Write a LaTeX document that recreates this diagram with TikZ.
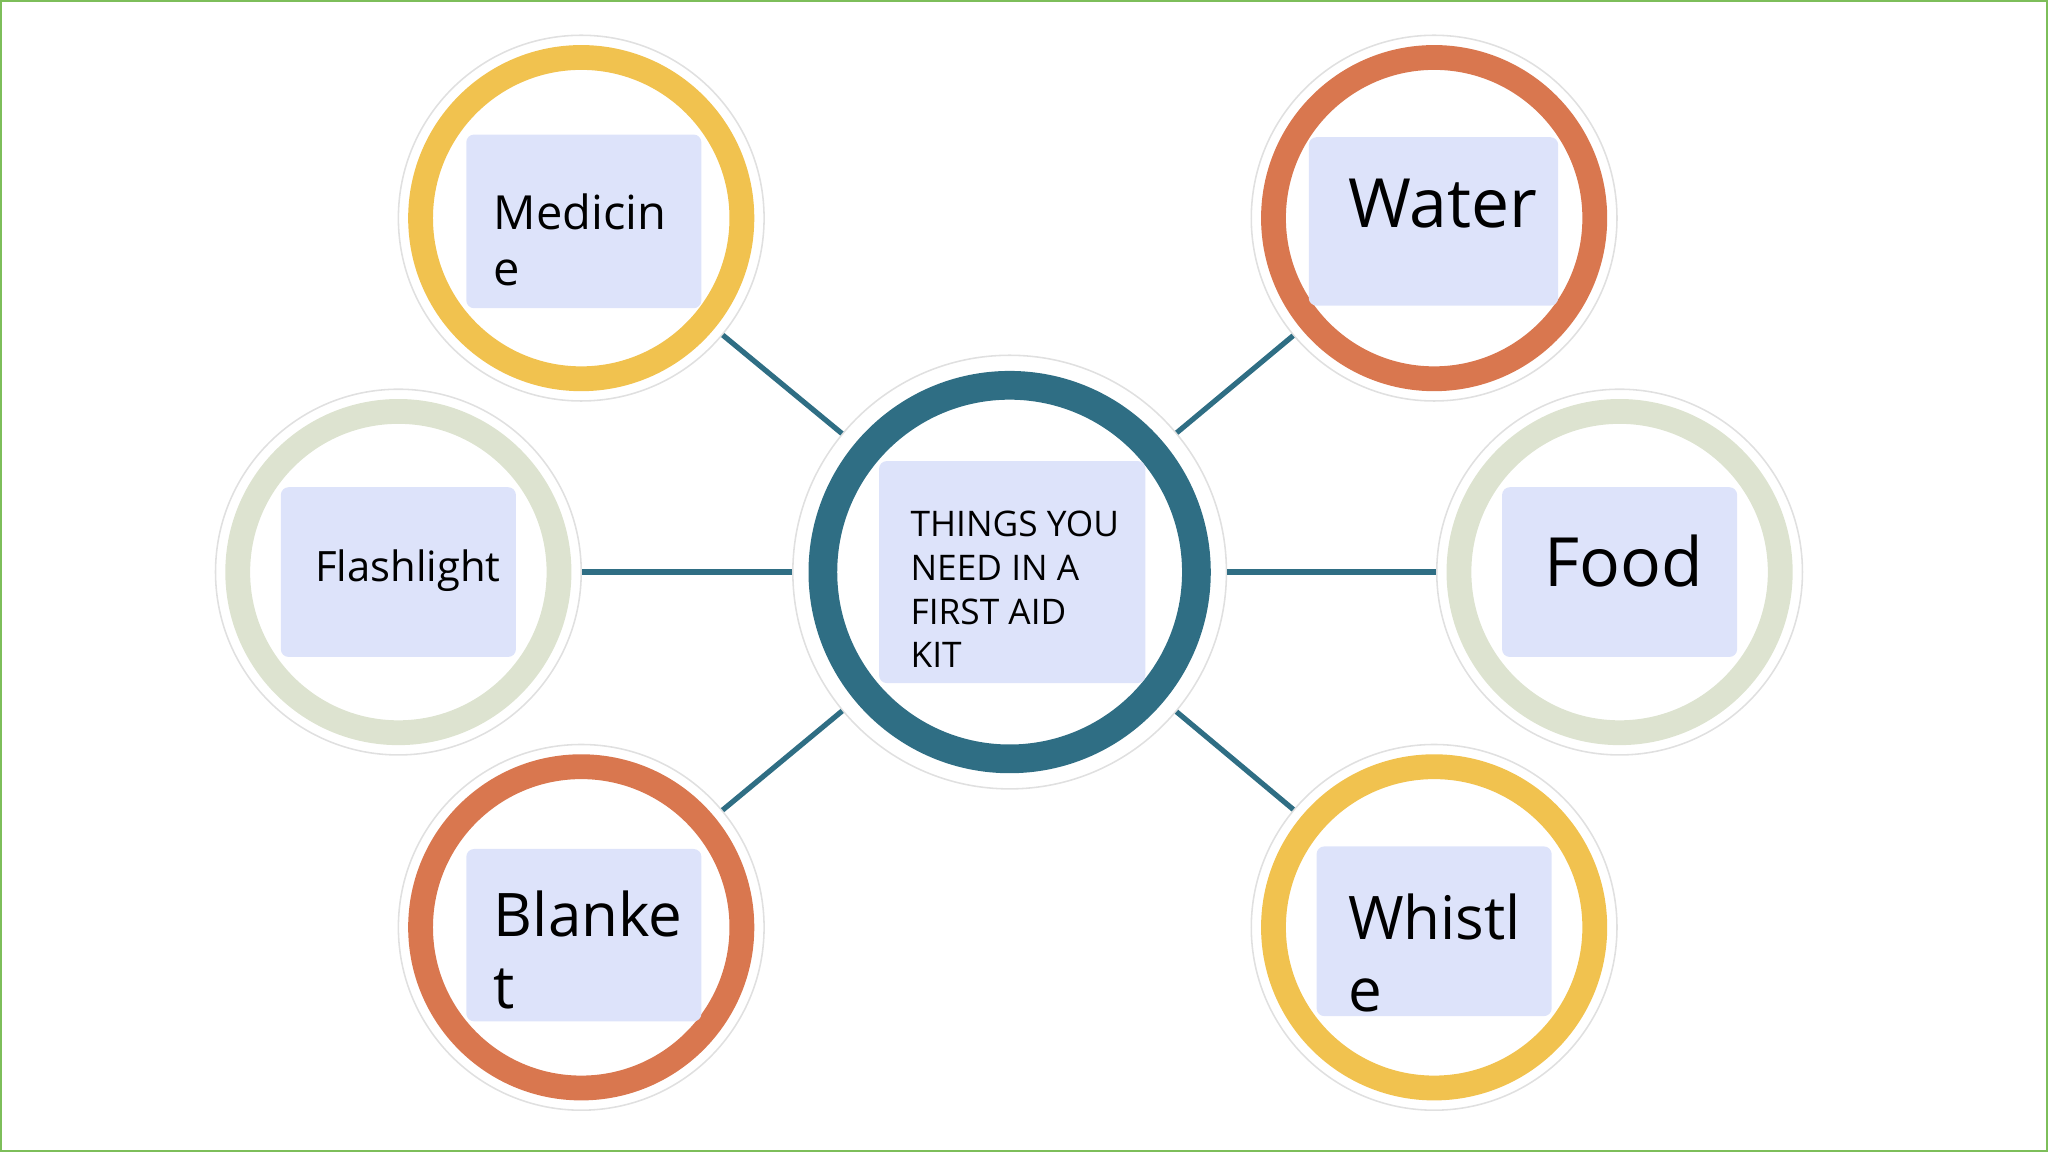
\documentclass[tikz,border=0pt]{standalone}
\usepackage{fontspec}
\setmainfont{Open Sans}
\definecolor{teal1}{HTML}{2F6E84}
\definecolor{yel}{HTML}{F1C24F}
\definecolor{ora}{HTML}{D9774F}
\definecolor{sage}{HTML}{DDE3D0}
\definecolor{lav}{HTML}{DDE3FA}
\definecolor{frame}{HTML}{7DBE5A}
\begin{document}
\begin{tikzpicture}[x=1pt,y=-1pt,
  outer/.style={circle,draw=black!12,line width=1.2pt,minimum size=280pt,inner sep=0pt},
  box/.style={fill=lav,rounded corners=6pt},
  lbl/.style={anchor=north west,align=left,inner sep=0pt,text=black},
  conn/.style={draw=teal1,line width=4pt}]
\draw[frame,line width=1.5pt] (0.75,0.75) rectangle (1567.25,881.25);
\useasboundingbox (0,0) rectangle (1568,882);
% nodes
\node[outer,minimum size=332pt] (c) at (773,438) {};
\node[outer] (m) at (445,167) {};
\node[outer] (w) at (1098,167) {};
\node[outer] (f) at (305,438) {};
\node[outer] (fd) at (1240,438) {};
\node[outer] (b) at (445,710) {};
\node[outer] (wh) at (1098,710) {};
% rings
\draw[teal1,line width=22pt] (c.center) circle (143);
\draw[yel,line width=19pt] (m.center) circle (123);
\draw[ora,line width=19pt] (w.center) circle (123);
\draw[sage,line width=19pt] (f.center) circle (123);
\draw[sage,line width=19pt] (fd.center) circle (123);
\draw[ora,line width=19pt] (b.center) circle (123);
\draw[yel,line width=19pt] (wh.center) circle (123);
% boxes
\fill[box] (673,353) rectangle (877,523);
\fill[box] (357,103) rectangle (537,236);
\fill[box] (1002,105) rectangle (1193,234);
\fill[box] (215,373) rectangle (395,503);
\fill[box] (1150,373) rectangle (1330,503);
\fill[box] (357,650) rectangle (537,782);
\fill[box] (1008,648) rectangle (1188,778);
% connectors
\draw[conn] (c) -- (m);
\draw[conn] (c) -- (w);
\draw[conn] (c) -- (f);
\draw[conn] (c) -- (fd);
\draw[conn] (c) -- (b);
\draw[conn] (c) -- (wh);
% labels
\node[lbl,font=\fontsize{27}{33.5}\selectfont] (ct) at (697,391) {THINGS YOU\\NEED IN A\\FIRST AID\\KIT};
\node[lbl,font=\fontsize{36}{43}\selectfont] (mt) at (378,148) {Medicin\\e};
\node[lbl,font=\fontsize{52}{60}\selectfont] (wt) at (1032,137) {Water};
\node[lbl,font=\fontsize{32}{38}\selectfont] (ft) at (241,421) {Flashlight};
\node[lbl,font=\fontsize{52}{60}\selectfont] (fdt) at (1182,409) {Food};
\node[lbl,font=\fontsize{46}{55}\selectfont] (bt) at (378,682) {Blanke\\t};
\node[lbl,font=\fontsize{46}{55}\selectfont] (wht) at (1032,684) {Whistl\\e};
\end{tikzpicture}
\end{document}
